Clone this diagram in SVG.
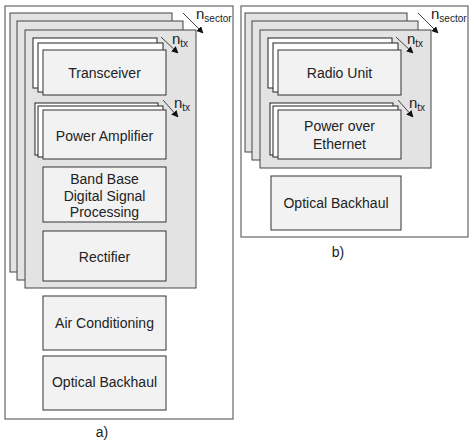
<svg xmlns="http://www.w3.org/2000/svg" width="474" height="444" viewBox="0 0 474 444">
<style>
.outer{fill:#fff;stroke:#666;stroke-width:1.2}
.sec{fill:#e3e3e3;stroke:#444;stroke-width:1}
.card{fill:#fff;stroke:#222;stroke-width:1}
.box{fill:#f2f2f2;stroke:#333;stroke-width:1}
text{font-family:"Liberation Sans",Arial,sans-serif;font-size:14px;fill:#222;text-anchor:middle}
.n{text-anchor:start;font-size:15px}
.sub{font-size:10px}
.arr{stroke:#444;stroke-width:1;marker-end:url(#ah)}
</style>
<defs>
<marker id="ah" viewBox="0 0 10 10" refX="9" refY="5" markerWidth="7" markerHeight="7" orient="auto" markerUnits="userSpaceOnUse">
<path d="M0,0 L10,5 L0,10 z" fill="#111"/>
</marker>
</defs>
<g id="panel-a">
<rect class="outer" x="5" y="6" width="228" height="413"/>
<g id="a-sector">
<rect class="sec" x="10" y="13" width="162" height="259"/>
<rect class="sec" x="17" y="21" width="166" height="259"/>
<rect class="sec" x="25" y="30" width="171" height="258"/>
</g>
<g id="a-transceiver">
<rect class="card" x="33" y="38" width="124" height="50"/>
<rect class="card" x="38" y="43" width="125" height="49"/>
<rect class="box" x="43" y="50" width="123" height="45"/>
<text x="104.5" y="78">Transceiver</text>
</g>
<g id="a-pa">
<rect class="card" x="35" y="103" width="123" height="52"/>
<rect class="card" x="38" y="106" width="125" height="51"/>
<rect class="box" x="43" y="110" width="123" height="49"/>
<text x="104.5" y="141">Power Amplifier</text>
</g>
<g id="a-bb">
<rect class="box" x="43" y="167" width="123" height="55"/>
<text x="104.5" y="184">Band Base</text>
<text x="104.5" y="201">Digital Signal</text>
<text x="104.5" y="217">Processing</text>
</g>
<g id="a-rect">
<rect class="box" x="43" y="231" width="123" height="50"/>
<text x="104.5" y="262">Rectifier</text>
</g>
<g id="a-ac">
<rect class="box" x="43" y="296" width="123" height="54"/>
<text x="104.5" y="328">Air Conditioning</text>
</g>
<g id="a-ob">
<rect class="box" x="43" y="356" width="123" height="54"/>
<text x="104.5" y="387">Optical Backhaul</text>
</g>
<text x="102" y="437">a)</text>
</g>
<g id="panel-b">
<rect class="outer" x="241" y="6" width="227" height="231"/>
<g id="b-sector">
<rect class="sec" x="245" y="13" width="162" height="139"/>
<rect class="sec" x="252" y="21" width="166" height="139"/>
<rect class="sec" x="260" y="30" width="171" height="138"/>
</g>
<g id="b-radio">
<rect class="card" x="268" y="38" width="124" height="50"/>
<rect class="card" x="273" y="43" width="125" height="49"/>
<rect class="box" x="278" y="50" width="123" height="45"/>
<text x="339.5" y="78">Radio Unit</text>
</g>
<g id="b-poe">
<rect class="card" x="270" y="103" width="123" height="52"/>
<rect class="card" x="273" y="106" width="125" height="51"/>
<rect class="box" x="278" y="110" width="123" height="49"/>
<text x="339.5" y="131">Power over</text>
<text x="339.5" y="149">Ethernet</text>
</g>
<g id="b-ob">
<rect class="box" x="271" y="176" width="130" height="54"/>
<text x="336" y="208">Optical Backhaul</text>
</g>
<text x="338" y="257">b)</text>
</g>
<g id="connectors">
<line class="arr" x1="183" y1="13" x2="203" y2="33"/>
<line class="arr" x1="161" y1="37" x2="178" y2="53"/>
<line class="arr" x1="163" y1="100" x2="178" y2="117"/>
<line class="arr" x1="418" y1="13" x2="438" y2="33"/>
<line class="arr" x1="396" y1="37" x2="413" y2="53"/>
<line class="arr" x1="398" y1="100" x2="413" y2="117"/>
</g>
<g id="labels">
<text class="n" x="196" y="19">n<tspan class="sub" dy="3">sector</tspan></text>
<text class="n" x="172" y="44">n<tspan class="sub" dy="3">tx</tspan></text>
<text class="n" x="174" y="108">n<tspan class="sub" dy="3">tx</tspan></text>
<text class="n" x="431" y="19">n<tspan class="sub" dy="3">sector</tspan></text>
<text class="n" x="407" y="44">n<tspan class="sub" dy="3">tx</tspan></text>
<text class="n" x="409" y="108">n<tspan class="sub" dy="3">tx</tspan></text>
</g>
</svg>
